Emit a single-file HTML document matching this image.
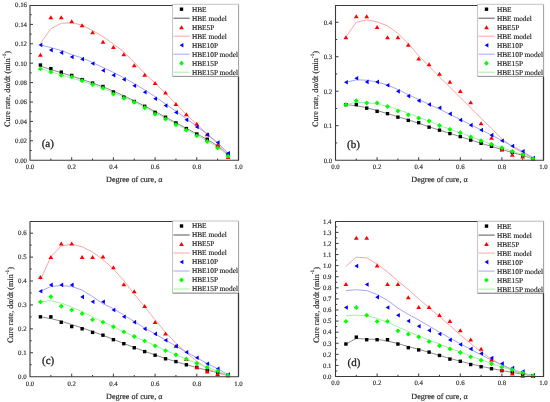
<!DOCTYPE html>
<html><head><meta charset="utf-8"><title>Cure rate plots</title>
<style>
html,body{margin:0;padding:0;background:#fff;}
body{width:550px;height:402px;overflow:hidden;}
svg{display:block;filter:blur(0.3px);}
text{font-family:'Liberation Serif', 'Times New Roman', serif;fill:#222222;stroke:#222222;stroke-width:0.15px;text-rendering:geometricPrecision;}
.tk{font-size:6.8px;fill:#333333;stroke:#333333;stroke-width:0.18px;}
.at{font-size:8.2px;}
.lg{font-size:7.35px;}
.pl{font-size:11px;stroke-width:0.3px;}
.sup{font-size:5.3px;}
.xt{font-size:8.1px;}
</style></head>
<body>
<svg width="550" height="402" viewBox="0 0 550 402">
<rect width="550" height="402" fill="#fff"/>
<polyline points="40.42,66.11 50.85,69.5 61.27,72.71 71.7,76 82.12,79.5 92.55,82.99 102.97,86.77 113.4,91.14 123.83,95.79 134.25,100.84 144.68,106.07 155.1,111.51 165.53,117.13 175.95,122.76 186.38,128.38 196.8,133.82 207.22,139.44 217.65,145.84 228.07,154.38" fill="none" stroke="#808080" stroke-width="0.9" stroke-linejoin="round"/>
<polyline points="40.42,43.51 50.85,28.67 61.27,23.33 71.7,22.75 82.12,25.08 92.55,30.61 102.97,36.62 113.4,43.99 123.83,51.95 134.25,62.52 144.68,73.39 155.1,83.08 165.53,93.27 175.95,103.94 186.38,114.61 196.8,124.31 207.22,134.01 217.65,143.71 228.07,155.35" fill="none" stroke="#ff9a9a" stroke-width="0.9" stroke-linejoin="round"/>
<polyline points="40.42,44.96 50.85,47.58 61.27,50.59 71.7,54.57 82.12,57.96 92.55,62.52 102.97,67.47 113.4,72.42 123.83,77.75 134.25,83.57 144.68,89.88 155.1,96.66 165.53,103.94 175.95,111.22 186.38,118.68 196.8,126.25 207.22,134.2 217.65,142.74 228.07,152.92" fill="none" stroke="#9a9aff" stroke-width="0.9" stroke-linejoin="round"/>
<polyline points="40.42,68.53 50.85,71.83 61.27,74.94 71.7,77.94 82.12,81.14 92.55,84.64 102.97,88.32 113.4,92.59 123.83,97.15 134.25,102 144.68,107.33 155.1,112.67 165.53,118.3 175.95,123.92 186.38,129.55 196.8,135.17 207.22,140.99 217.65,147.2 228.07,155.54" fill="none" stroke="#9aee9a" stroke-width="0.9" stroke-linejoin="round"/>
<rect x="38.72" y="63.34" width="3.4" height="3.4" fill="#000"/>
<rect x="49.15" y="66.93" width="3.4" height="3.4" fill="#000"/>
<rect x="59.57" y="70.42" width="3.4" height="3.4" fill="#000"/>
<rect x="70" y="73.72" width="3.4" height="3.4" fill="#000"/>
<rect x="80.42" y="77.89" width="3.4" height="3.4" fill="#000"/>
<rect x="90.85" y="81.38" width="3.4" height="3.4" fill="#000"/>
<rect x="101.27" y="84.78" width="3.4" height="3.4" fill="#000"/>
<rect x="111.7" y="90.31" width="3.4" height="3.4" fill="#000"/>
<rect x="122.12" y="95.45" width="3.4" height="3.4" fill="#000"/>
<rect x="132.55" y="99.81" width="3.4" height="3.4" fill="#000"/>
<rect x="142.98" y="104.57" width="3.4" height="3.4" fill="#000"/>
<rect x="153.4" y="110.68" width="3.4" height="3.4" fill="#000"/>
<rect x="163.83" y="115.53" width="3.4" height="3.4" fill="#000"/>
<rect x="174.25" y="121.25" width="3.4" height="3.4" fill="#000"/>
<rect x="184.68" y="126.88" width="3.4" height="3.4" fill="#000"/>
<rect x="195.1" y="132.31" width="3.4" height="3.4" fill="#000"/>
<rect x="205.53" y="137.55" width="3.4" height="3.4" fill="#000"/>
<rect x="215.95" y="144.92" width="3.4" height="3.4" fill="#000"/>
<rect x="226.38" y="152.68" width="3.4" height="3.4" fill="#000"/>
<path d="M40.42 52.66L42.82 56.66L38.02 56.66Z" fill="#f00"/>
<path d="M50.85 15.22L53.25 19.22L48.45 19.22Z" fill="#f00"/>
<path d="M61.27 15.22L63.67 19.22L58.88 19.22Z" fill="#f00"/>
<path d="M71.7 19.3L74.1 23.3L69.3 23.3Z" fill="#f00"/>
<path d="M82.12 23.37L84.53 27.37L79.72 27.37Z" fill="#f00"/>
<path d="M92.55 30.35L94.95 34.35L90.15 34.35Z" fill="#f00"/>
<path d="M102.97 39.76L105.38 43.76L100.57 43.76Z" fill="#f00"/>
<path d="M113.4 45L115.8 49L111 49Z" fill="#f00"/>
<path d="M123.83 52.37L126.23 56.37L121.42 56.37Z" fill="#f00"/>
<path d="M134.25 63.14L136.65 67.14L131.85 67.14Z" fill="#f00"/>
<path d="M144.68 72.74L147.08 76.74L142.28 76.74Z" fill="#f00"/>
<path d="M155.1 80.89L157.5 84.89L152.7 84.89Z" fill="#f00"/>
<path d="M165.53 90.59L167.93 94.59L163.12 94.59Z" fill="#f00"/>
<path d="M175.95 101.94L178.35 105.94L173.55 105.94Z" fill="#f00"/>
<path d="M186.38 112.22L188.78 116.22L183.97 116.22Z" fill="#f00"/>
<path d="M196.8 121.82L199.2 125.82L194.4 125.82Z" fill="#f00"/>
<path d="M207.22 132.2L209.62 136.2L204.82 136.2Z" fill="#f00"/>
<path d="M217.65 142.87L220.05 146.87L215.25 146.87Z" fill="#f00"/>
<path d="M228.07 154.9L230.47 158.9L225.67 158.9Z" fill="#f00"/>
<path d="M38.52 44.96L42.32 42.66L42.32 47.26Z" fill="#00f"/>
<path d="M48.95 50.11L52.75 47.81L52.75 52.41Z" fill="#00f"/>
<path d="M59.38 52.63L63.17 50.33L63.17 54.93Z" fill="#00f"/>
<path d="M69.8 56.99L73.6 54.69L73.6 59.29Z" fill="#00f"/>
<path d="M80.22 59.13L84.03 56.83L84.03 61.43Z" fill="#00f"/>
<path d="M90.65 63.49L94.45 61.19L94.45 65.79Z" fill="#00f"/>
<path d="M101.07 70.57L104.88 68.27L104.88 72.87Z" fill="#00f"/>
<path d="M111.5 75.13L115.3 72.83L115.3 77.43Z" fill="#00f"/>
<path d="M121.92 79.4L125.73 77.1L125.73 81.7Z" fill="#00f"/>
<path d="M132.35 85.8L136.15 83.5L136.15 88.1Z" fill="#00f"/>
<path d="M142.78 92.2L146.58 89.9L146.58 94.5Z" fill="#00f"/>
<path d="M153.2 98.8L157 96.5L157 101.1Z" fill="#00f"/>
<path d="M163.62 105.59L167.43 103.29L167.43 107.89Z" fill="#00f"/>
<path d="M174.05 112.38L177.85 110.08L177.85 114.68Z" fill="#00f"/>
<path d="M184.47 119.85L188.28 117.55L188.28 122.15Z" fill="#00f"/>
<path d="M194.9 126.93L198.7 124.63L198.7 129.23Z" fill="#00f"/>
<path d="M205.32 134.79L209.12 132.49L209.12 137.09Z" fill="#00f"/>
<path d="M215.75 142.55L219.55 140.25L219.55 144.85Z" fill="#00f"/>
<path d="M226.17 153.31L229.97 151.01L229.97 155.61Z" fill="#00f"/>
<path d="M40.42 66.47L42.88 68.92L40.42 71.37L37.97 68.92Z" fill="#0f0"/>
<path d="M50.85 69.67L53.3 72.12L50.85 74.57L48.4 72.12Z" fill="#0f0"/>
<path d="M61.27 72.97L63.73 75.42L61.27 77.87L58.82 75.42Z" fill="#0f0"/>
<path d="M71.7 74.43L74.15 76.88L71.7 79.33L69.25 76.88Z" fill="#0f0"/>
<path d="M82.12 78.21L84.58 80.66L82.12 83.11L79.67 80.66Z" fill="#0f0"/>
<path d="M92.55 82.09L95 84.54L92.55 86.99L90.1 84.54Z" fill="#0f0"/>
<path d="M102.97 85.68L105.42 88.13L102.97 90.58L100.52 88.13Z" fill="#0f0"/>
<path d="M113.4 91.5L115.85 93.95L113.4 96.4L110.95 93.95Z" fill="#0f0"/>
<path d="M123.83 95.77L126.28 98.22L123.83 100.67L121.38 98.22Z" fill="#0f0"/>
<path d="M134.25 99.84L136.7 102.29L134.25 104.74L131.8 102.29Z" fill="#0f0"/>
<path d="M144.68 105.37L147.12 107.82L144.68 110.27L142.23 107.82Z" fill="#0f0"/>
<path d="M155.1 111.77L157.55 114.22L155.1 116.67L152.65 114.22Z" fill="#0f0"/>
<path d="M165.53 116.62L167.97 119.07L165.53 121.52L163.08 119.07Z" fill="#0f0"/>
<path d="M175.95 122.25L178.4 124.7L175.95 127.15L173.5 124.7Z" fill="#0f0"/>
<path d="M186.38 127.68L188.82 130.13L186.38 132.58L183.93 130.13Z" fill="#0f0"/>
<path d="M196.8 133.4L199.25 135.85L196.8 138.3L194.35 135.85Z" fill="#0f0"/>
<path d="M207.22 139.03L209.67 141.48L207.22 143.93L204.78 141.48Z" fill="#0f0"/>
<path d="M217.65 145.43L220.1 147.88L217.65 150.33L215.2 147.88Z" fill="#0f0"/>
<path d="M228.07 153.68L230.52 156.13L228.07 158.58L225.62 156.13Z" fill="#0f0"/>
<path d="M30 5V160.2H238.5V5" fill="none" stroke="#3a3a3a" stroke-width="1.1"/>
<path d="M30 5.5H238.5" fill="none" stroke="#3a3a3a" stroke-width="1"/>
<text x="30" y="169" text-anchor="middle" class="tk">0.0</text>
<path d="M50.85 160.2V158.5" stroke="#3a3a3a" stroke-width="1"/>
<path d="M71.7 160.2V157.2" stroke="#3a3a3a" stroke-width="1"/>
<text x="71.7" y="169" text-anchor="middle" class="tk">0.2</text>
<path d="M92.55 160.2V158.5" stroke="#3a3a3a" stroke-width="1"/>
<path d="M113.4 160.2V157.2" stroke="#3a3a3a" stroke-width="1"/>
<text x="113.4" y="169" text-anchor="middle" class="tk">0.4</text>
<path d="M134.25 160.2V158.5" stroke="#3a3a3a" stroke-width="1"/>
<path d="M155.1 160.2V157.2" stroke="#3a3a3a" stroke-width="1"/>
<text x="155.1" y="169" text-anchor="middle" class="tk">0.6</text>
<path d="M175.95 160.2V158.5" stroke="#3a3a3a" stroke-width="1"/>
<path d="M196.8 160.2V157.2" stroke="#3a3a3a" stroke-width="1"/>
<text x="196.8" y="169" text-anchor="middle" class="tk">0.8</text>
<path d="M217.65 160.2V158.5" stroke="#3a3a3a" stroke-width="1"/>
<text x="238.5" y="169" text-anchor="middle" class="tk">1.0</text>
<path d="M30 150.5H31.7" stroke="#3a3a3a" stroke-width="1"/>
<path d="M30 140.8H33" stroke="#3a3a3a" stroke-width="1"/>
<path d="M30 131.1H31.7" stroke="#3a3a3a" stroke-width="1"/>
<path d="M30 121.4H33" stroke="#3a3a3a" stroke-width="1"/>
<path d="M30 111.7H31.7" stroke="#3a3a3a" stroke-width="1"/>
<path d="M30 102H33" stroke="#3a3a3a" stroke-width="1"/>
<path d="M30 92.3H31.7" stroke="#3a3a3a" stroke-width="1"/>
<path d="M30 82.6H33" stroke="#3a3a3a" stroke-width="1"/>
<path d="M30 72.9H31.7" stroke="#3a3a3a" stroke-width="1"/>
<path d="M30 63.2H33" stroke="#3a3a3a" stroke-width="1"/>
<path d="M30 53.5H31.7" stroke="#3a3a3a" stroke-width="1"/>
<path d="M30 43.8H33" stroke="#3a3a3a" stroke-width="1"/>
<path d="M30 34.1H31.7" stroke="#3a3a3a" stroke-width="1"/>
<path d="M30 24.4H33" stroke="#3a3a3a" stroke-width="1"/>
<path d="M30 14.7H31.7" stroke="#3a3a3a" stroke-width="1"/>
<text x="27" y="162.5" text-anchor="end" class="tk">0.00</text>
<text x="27" y="143.1" text-anchor="end" class="tk">0.02</text>
<text x="27" y="123.7" text-anchor="end" class="tk">0.04</text>
<text x="27" y="104.3" text-anchor="end" class="tk">0.06</text>
<text x="27" y="84.9" text-anchor="end" class="tk">0.08</text>
<text x="27" y="65.5" text-anchor="end" class="tk">0.10</text>
<text x="27" y="46.1" text-anchor="end" class="tk">0.12</text>
<text x="27" y="26.7" text-anchor="end" class="tk">0.14</text>
<text x="27" y="7.3" text-anchor="end" class="tk">0.16</text>
<text x="41.7" y="146.5" class="pl">(a)</text>
<text x="134.25" y="182.4" text-anchor="middle" class="at xt">Degree of cure, &#945;</text>
<text transform="translate(10 127) rotate(-90)" class="at">Cure rate, d&#945;/dt (min<tspan dy="-4.3" class="sup">-1</tspan><tspan dy="4.3">)</tspan></text>
<rect x="172.7" y="4.2" width="65.8" height="72" fill="#fff" stroke="#aaa" stroke-width="0.7"/>
<path d="M172.7 76.5H238.5" stroke="#999" stroke-width="1.1"/>
<rect x="179.8" y="7.5" width="3.4" height="3.4" fill="#000"/>
<text x="191.9" y="11.6" class="lg">HBE</text>
<path d="M173.5 18.2H189.7" stroke="#444" stroke-width="0.9"/>
<text x="191.9" y="20.6" class="lg">HBE model</text>
<path d="M181.5 25.2L183.9 29.2L179.1 29.2Z" fill="#f00"/>
<text x="191.9" y="29.6" class="lg">HBE5P</text>
<path d="M173.5 36.2H189.7" stroke="#ff9a9a" stroke-width="0.9"/>
<text x="191.9" y="38.6" class="lg">HBE model</text>
<path d="M179.6 45.2L183.4 42.9L183.4 47.5Z" fill="#00f"/>
<text x="191.9" y="47.6" class="lg">HBE10P</text>
<path d="M173.5 54.2H189.7" stroke="#9a9aff" stroke-width="0.9"/>
<text x="191.9" y="56.6" class="lg">HBE10P model</text>
<path d="M181.5 60.75L183.95 63.2L181.5 65.65L179.05 63.2Z" fill="#0f0"/>
<text x="191.9" y="65.6" class="lg">HBE15P</text>
<path d="M173.5 72.2H189.7" stroke="#9aee9a" stroke-width="0.9"/>
<text x="191.9" y="74.6" class="lg">HBE15P model</text>
<path d="M238.5 77V160.2" stroke="#3a3a3a" stroke-width="1.2"/>
<polyline points="345.9,104.67 356.3,105.71 366.7,107.78 377.1,110.54 387.5,113.64 397.9,116.74 408.3,119.85 418.7,123.3 429.1,126.75 439.5,130.19 449.9,133.3 460.3,136.75 470.7,139.85 481.1,143.3 491.5,146.4 501.9,149.51 512.3,152.61 522.7,155.37 533.1,158.82" fill="none" stroke="#808080" stroke-width="0.9" stroke-linejoin="round"/>
<polyline points="345.9,36.87 356.3,22.24 366.7,19.83 377.1,21.9 387.5,25.83 397.9,33.45 408.3,43.63 418.7,55.7 429.1,66.39 439.5,76.91 449.9,87.26 460.3,97.6 470.7,107.95 481.1,118.3 491.5,128.47 501.9,138.82 512.3,146.75 522.7,152.96 533.1,158.3" fill="none" stroke="#ff9a9a" stroke-width="0.9" stroke-linejoin="round"/>
<polyline points="345.9,82.26 356.3,79.84 366.7,80.19 377.1,81.91 387.5,85.01 397.9,89.5 408.3,94.67 418.7,99.5 429.1,104.33 439.5,109.16 449.9,114.33 460.3,119.5 470.7,124.68 481.1,129.85 491.5,135.02 501.9,140.54 512.3,146.06 522.7,151.58 533.1,157.79" fill="none" stroke="#9a9aff" stroke-width="0.9" stroke-linejoin="round"/>
<polyline points="345.9,104.67 356.3,102.26 366.7,102.6 377.1,103.98 387.5,106.4 397.9,109.5 408.3,113.3 418.7,117.09 429.1,121.23 439.5,125.37 449.9,129.16 460.3,132.95 470.7,136.75 481.1,140.54 491.5,144.34 501.9,147.78 512.3,151.23 522.7,154.68 533.1,158.82" fill="none" stroke="#9aee9a" stroke-width="0.9" stroke-linejoin="round"/>
<rect x="344.2" y="102.97" width="3.4" height="3.4" fill="#000"/>
<rect x="354.6" y="102.97" width="3.4" height="3.4" fill="#000"/>
<rect x="365" y="106.42" width="3.4" height="3.4" fill="#000"/>
<rect x="375.4" y="109.63" width="3.4" height="3.4" fill="#000"/>
<rect x="385.8" y="111.94" width="3.4" height="3.4" fill="#000"/>
<rect x="396.2" y="115.46" width="3.4" height="3.4" fill="#000"/>
<rect x="406.6" y="118.67" width="3.4" height="3.4" fill="#000"/>
<rect x="417" y="120.94" width="3.4" height="3.4" fill="#000"/>
<rect x="427.4" y="125.46" width="3.4" height="3.4" fill="#000"/>
<rect x="437.8" y="128.46" width="3.4" height="3.4" fill="#000"/>
<rect x="448.2" y="131.87" width="3.4" height="3.4" fill="#000"/>
<rect x="458.6" y="134.88" width="3.4" height="3.4" fill="#000"/>
<rect x="469" y="138.39" width="3.4" height="3.4" fill="#000"/>
<rect x="479.4" y="141.6" width="3.4" height="3.4" fill="#000"/>
<rect x="489.8" y="144.6" width="3.4" height="3.4" fill="#000"/>
<rect x="500.2" y="147.81" width="3.4" height="3.4" fill="#000"/>
<rect x="510.6" y="150.71" width="3.4" height="3.4" fill="#000"/>
<rect x="521" y="153.6" width="3.4" height="3.4" fill="#000"/>
<rect x="531.4" y="157.12" width="3.4" height="3.4" fill="#000"/>
<path d="M345.9 35.14L348.3 39.14L343.5 39.14Z" fill="#f00"/>
<path d="M356.3 14.24L358.7 18.24L353.9 18.24Z" fill="#f00"/>
<path d="M366.7 14.24L369.1 18.24L364.3 18.24Z" fill="#f00"/>
<path d="M377.1 25.07L379.5 29.07L374.7 29.07Z" fill="#f00"/>
<path d="M387.5 35.14L389.9 39.14L385.1 39.14Z" fill="#f00"/>
<path d="M397.9 35.14L400.3 39.14L395.5 39.14Z" fill="#f00"/>
<path d="M408.3 42.77L410.7 46.77L405.9 46.77Z" fill="#f00"/>
<path d="M418.7 56.6L421.1 60.6L416.3 60.6Z" fill="#f00"/>
<path d="M429.1 62.18L431.5 66.18L426.7 66.18Z" fill="#f00"/>
<path d="M439.5 71.63L441.9 75.63L437.1 75.63Z" fill="#f00"/>
<path d="M449.9 79.7L452.3 83.7L447.5 83.7Z" fill="#f00"/>
<path d="M460.3 89.02L462.7 93.02L457.9 93.02Z" fill="#f00"/>
<path d="M470.7 100.26L473.1 104.26L468.3 104.26Z" fill="#f00"/>
<path d="M481.1 121.3L483.5 125.3L478.7 125.3Z" fill="#f00"/>
<path d="M491.5 135.78L493.9 139.78L489.1 139.78Z" fill="#f00"/>
<path d="M501.9 147.51L504.3 151.51L499.5 151.51Z" fill="#f00"/>
<path d="M512.3 152.68L514.7 156.68L509.9 156.68Z" fill="#f00"/>
<path d="M522.7 154.58L525.1 158.58L520.3 158.58Z" fill="#f00"/>
<path d="M533.1 156.82L535.5 160.82L530.7 160.82Z" fill="#f00"/>
<path d="M344 82.22L347.8 79.92L347.8 84.52Z" fill="#00f"/>
<path d="M354.4 78.32L358.2 76.02L358.2 80.62Z" fill="#00f"/>
<path d="M364.8 81.91L368.6 79.61L368.6 84.21Z" fill="#00f"/>
<path d="M375.2 81.91L379 79.61L379 84.21Z" fill="#00f"/>
<path d="M385.6 85.22L389.4 82.92L389.4 87.52Z" fill="#00f"/>
<path d="M396 91.33L399.8 89.03L399.8 93.63Z" fill="#00f"/>
<path d="M406.4 96.12L410.2 93.82L410.2 98.42Z" fill="#00f"/>
<path d="M416.8 100.64L420.6 98.34L420.6 102.94Z" fill="#00f"/>
<path d="M427.2 104.53L431 102.23L431 106.83Z" fill="#00f"/>
<path d="M437.6 107.74L441.4 105.44L441.4 110.04Z" fill="#00f"/>
<path d="M448 113.85L451.8 111.55L451.8 116.15Z" fill="#00f"/>
<path d="M458.4 120.05L462.2 117.75L462.2 122.35Z" fill="#00f"/>
<path d="M468.8 125.16L472.6 122.86L472.6 127.46Z" fill="#00f"/>
<path d="M479.2 129.95L483 127.65L483 132.25Z" fill="#00f"/>
<path d="M489.6 135.16L493.4 132.86L493.4 137.46Z" fill="#00f"/>
<path d="M500 140.78L503.8 138.48L503.8 143.08Z" fill="#00f"/>
<path d="M510.4 145.99L514.2 143.69L514.2 148.29Z" fill="#00f"/>
<path d="M520.8 151.37L524.6 149.07L524.6 153.67Z" fill="#00f"/>
<path d="M531.2 158.13L535 155.83L535 160.43Z" fill="#00f"/>
<path d="M345.9 102.22L348.35 104.67L345.9 107.12L343.45 104.67Z" fill="#0f0"/>
<path d="M356.3 98.29L358.75 100.74L356.3 103.19L353.85 100.74Z" fill="#0f0"/>
<path d="M366.7 100.5L369.15 102.95L366.7 105.4L364.25 102.95Z" fill="#0f0"/>
<path d="M377.1 100.5L379.55 102.95L377.1 105.4L374.65 102.95Z" fill="#0f0"/>
<path d="M387.5 104.09L389.95 106.54L387.5 108.99L385.05 106.54Z" fill="#0f0"/>
<path d="M397.9 108.5L400.35 110.95L397.9 113.4L395.45 110.95Z" fill="#0f0"/>
<path d="M408.3 112.4L410.75 114.85L408.3 117.3L405.85 114.85Z" fill="#0f0"/>
<path d="M418.7 115.71L421.15 118.16L418.7 120.61L416.25 118.16Z" fill="#0f0"/>
<path d="M429.1 118.61L431.55 121.06L429.1 123.51L426.65 121.06Z" fill="#0f0"/>
<path d="M439.5 123.02L441.95 125.47L439.5 127.92L437.05 125.47Z" fill="#0f0"/>
<path d="M449.9 126.92L452.35 129.37L449.9 131.82L447.45 129.37Z" fill="#0f0"/>
<path d="M460.3 130.23L462.75 132.68L460.3 135.13L457.85 132.68Z" fill="#0f0"/>
<path d="M470.7 134.44L473.15 136.89L470.7 139.34L468.25 136.89Z" fill="#0f0"/>
<path d="M481.1 138.33L483.55 140.78L481.1 143.23L478.65 140.78Z" fill="#0f0"/>
<path d="M491.5 141.85L493.95 144.3L491.5 146.75L489.05 144.3Z" fill="#0f0"/>
<path d="M501.9 145.33L504.35 147.78L501.9 150.23L499.45 147.78Z" fill="#0f0"/>
<path d="M512.3 148.96L514.75 151.41L512.3 153.86L509.85 151.41Z" fill="#0f0"/>
<path d="M522.7 152.13L525.15 154.58L522.7 157.03L520.25 154.58Z" fill="#0f0"/>
<path d="M533.1 156.37L535.55 158.82L533.1 161.27L530.65 158.82Z" fill="#0f0"/>
<path d="M335.5 5V160.2H543.5V5" fill="none" stroke="#3a3a3a" stroke-width="1.1"/>
<path d="M335.5 5.5H543.5" fill="none" stroke="#3a3a3a" stroke-width="1"/>
<text x="335.5" y="169" text-anchor="middle" class="tk">0.0</text>
<path d="M356.3 160.2V158.5" stroke="#3a3a3a" stroke-width="1"/>
<path d="M377.1 160.2V157.2" stroke="#3a3a3a" stroke-width="1"/>
<text x="377.1" y="169" text-anchor="middle" class="tk">0.2</text>
<path d="M397.9 160.2V158.5" stroke="#3a3a3a" stroke-width="1"/>
<path d="M418.7 160.2V157.2" stroke="#3a3a3a" stroke-width="1"/>
<text x="418.7" y="169" text-anchor="middle" class="tk">0.4</text>
<path d="M439.5 160.2V158.5" stroke="#3a3a3a" stroke-width="1"/>
<path d="M460.3 160.2V157.2" stroke="#3a3a3a" stroke-width="1"/>
<text x="460.3" y="169" text-anchor="middle" class="tk">0.6</text>
<path d="M481.1 160.2V158.5" stroke="#3a3a3a" stroke-width="1"/>
<path d="M501.9 160.2V157.2" stroke="#3a3a3a" stroke-width="1"/>
<text x="501.9" y="169" text-anchor="middle" class="tk">0.8</text>
<path d="M522.7 160.2V158.5" stroke="#3a3a3a" stroke-width="1"/>
<text x="543.5" y="169" text-anchor="middle" class="tk">1.0</text>
<path d="M335.5 142.96H337.2" stroke="#3a3a3a" stroke-width="1"/>
<path d="M335.5 125.71H338.5" stroke="#3a3a3a" stroke-width="1"/>
<path d="M335.5 108.47H337.2" stroke="#3a3a3a" stroke-width="1"/>
<path d="M335.5 91.22H338.5" stroke="#3a3a3a" stroke-width="1"/>
<path d="M335.5 73.98H337.2" stroke="#3a3a3a" stroke-width="1"/>
<path d="M335.5 56.73H338.5" stroke="#3a3a3a" stroke-width="1"/>
<path d="M335.5 39.49H337.2" stroke="#3a3a3a" stroke-width="1"/>
<path d="M335.5 22.24H338.5" stroke="#3a3a3a" stroke-width="1"/>
<text x="332.2" y="162.5" text-anchor="end" class="tk">0.0</text>
<text x="332.2" y="128.01" text-anchor="end" class="tk">0.1</text>
<text x="332.2" y="93.52" text-anchor="end" class="tk">0.2</text>
<text x="332.2" y="59.03" text-anchor="end" class="tk">0.3</text>
<text x="332.2" y="24.54" text-anchor="end" class="tk">0.4</text>
<text x="347" y="147.5" class="pl">(b)</text>
<text x="439.5" y="182.4" text-anchor="middle" class="at xt">Degree of cure, &#945;</text>
<text transform="translate(318.3 127) rotate(-90)" class="at">Cure rate, d&#945;/dt (min<tspan dy="-4.3" class="sup">-1</tspan><tspan dy="4.3">)</tspan></text>
<rect x="477.7" y="4.2" width="65.8" height="72" fill="#fff" stroke="#aaa" stroke-width="0.7"/>
<path d="M477.7 76.5H543.5" stroke="#999" stroke-width="1.1"/>
<rect x="484.8" y="7.5" width="3.4" height="3.4" fill="#000"/>
<text x="496.9" y="11.6" class="lg">HBE</text>
<path d="M478.5 18.2H494.7" stroke="#444" stroke-width="0.9"/>
<text x="496.9" y="20.6" class="lg">HBE model</text>
<path d="M486.5 25.2L488.9 29.2L484.1 29.2Z" fill="#f00"/>
<text x="496.9" y="29.6" class="lg">HBE5P</text>
<path d="M478.5 36.2H494.7" stroke="#ff9a9a" stroke-width="0.9"/>
<text x="496.9" y="38.6" class="lg">HBE model</text>
<path d="M484.6 45.2L488.4 42.9L488.4 47.5Z" fill="#00f"/>
<text x="496.9" y="47.6" class="lg">HBE10P</text>
<path d="M478.5 54.2H494.7" stroke="#9a9aff" stroke-width="0.9"/>
<text x="496.9" y="56.6" class="lg">HBE10P model</text>
<path d="M486.5 60.75L488.95 63.2L486.5 65.65L484.05 63.2Z" fill="#0f0"/>
<text x="496.9" y="65.6" class="lg">HBE15P</text>
<path d="M478.5 72.2H494.7" stroke="#9aee9a" stroke-width="0.9"/>
<text x="496.9" y="74.6" class="lg">HBE15P model</text>
<path d="M543.5 77V160.2" stroke="#3a3a3a" stroke-width="1.2"/>
<polyline points="40.42,316.89 50.85,318.57 61.27,321.2 71.7,324.55 82.12,327.9 92.55,331.49 102.97,335.31 113.4,339.38 123.83,343.45 134.25,347.51 144.68,351.34 155.1,354.93 165.53,358.52 175.95,361.63 186.38,364.74 196.8,367.61 207.22,370.24 217.65,372.63 228.07,375.26" fill="none" stroke="#808080" stroke-width="0.9" stroke-linejoin="round"/>
<polyline points="40.42,279.81 50.85,256.85 61.27,245.84 71.7,244.26 82.12,246.8 92.55,252.06 102.97,259.48 113.4,269.05 123.83,280.53 134.25,294.17 144.68,306.84 155.1,319.76 165.53,332.44 175.95,343.21 186.38,352.78 196.8,361.15 207.22,368.33 217.65,373.11 228.07,375.74" fill="none" stroke="#ff9a9a" stroke-width="0.9" stroke-linejoin="round"/>
<polyline points="40.42,291.29 50.85,286.51 61.27,285.55 71.7,286.51 82.12,290.1 92.55,296.56 102.97,303.83 113.4,308.64 123.83,315.05 134.25,321.56 144.68,328.06 155.1,333.88 165.53,340.1 175.95,346.08 186.38,352.06 196.8,357.8 207.22,363.54 217.65,368.81 228.07,374.55" fill="none" stroke="#9a9aff" stroke-width="0.9" stroke-linejoin="round"/>
<polyline points="40.42,301.92 50.85,300.62 61.27,303.26 71.7,307.08 82.12,311.63 92.55,316.89 102.97,321.92 113.4,326.7 123.83,331.72 134.25,336.51 144.68,341.05 155.1,345.6 165.53,350.38 175.95,354.69 186.38,359 196.8,363.3 207.22,367.37 217.65,371.2 228.07,375.26" fill="none" stroke="#9aee9a" stroke-width="0.9" stroke-linejoin="round"/>
<rect x="38.72" y="315.14" width="3.4" height="3.4" fill="#000"/>
<rect x="49.15" y="315.14" width="3.4" height="3.4" fill="#000"/>
<rect x="59.57" y="320.57" width="3.4" height="3.4" fill="#000"/>
<rect x="70" y="324.86" width="3.4" height="3.4" fill="#000"/>
<rect x="80.42" y="327.06" width="3.4" height="3.4" fill="#000"/>
<rect x="90.85" y="330.67" width="3.4" height="3.4" fill="#000"/>
<rect x="101.27" y="333.47" width="3.4" height="3.4" fill="#000"/>
<rect x="111.7" y="337.97" width="3.4" height="3.4" fill="#000"/>
<rect x="122.12" y="341.99" width="3.4" height="3.4" fill="#000"/>
<rect x="132.55" y="346.05" width="3.4" height="3.4" fill="#000"/>
<rect x="142.98" y="349.88" width="3.4" height="3.4" fill="#000"/>
<rect x="153.4" y="353.47" width="3.4" height="3.4" fill="#000"/>
<rect x="163.83" y="357.08" width="3.4" height="3.4" fill="#000"/>
<rect x="174.25" y="359.88" width="3.4" height="3.4" fill="#000"/>
<rect x="184.68" y="363.09" width="3.4" height="3.4" fill="#000"/>
<rect x="195.1" y="365.67" width="3.4" height="3.4" fill="#000"/>
<rect x="205.53" y="368.59" width="3.4" height="3.4" fill="#000"/>
<rect x="215.95" y="370.89" width="3.4" height="3.4" fill="#000"/>
<rect x="226.38" y="373.56" width="3.4" height="3.4" fill="#000"/>
<path d="M40.42 275.11L42.82 279.11L38.02 279.11Z" fill="#f00"/>
<path d="M50.85 254.89L53.25 258.89L48.45 258.89Z" fill="#f00"/>
<path d="M61.27 241.57L63.67 245.57L58.88 245.57Z" fill="#f00"/>
<path d="M71.7 241.57L74.1 245.57L69.3 245.57Z" fill="#f00"/>
<path d="M82.12 254.89L84.53 258.89L79.72 258.89Z" fill="#f00"/>
<path d="M92.55 254.89L94.95 258.89L90.15 258.89Z" fill="#f00"/>
<path d="M102.97 254.61L105.38 258.61L100.57 258.61Z" fill="#f00"/>
<path d="M113.4 265.37L115.8 269.37L111 269.37Z" fill="#f00"/>
<path d="M123.83 282.21L126.23 286.21L121.42 286.21Z" fill="#f00"/>
<path d="M134.25 289.29L136.65 293.29L131.85 293.29Z" fill="#f00"/>
<path d="M144.68 304.03L147.08 308.03L142.28 308.03Z" fill="#f00"/>
<path d="M155.1 319.92L157.5 323.92L152.7 323.92Z" fill="#f00"/>
<path d="M165.53 331.57L167.93 335.57L163.12 335.57Z" fill="#f00"/>
<path d="M175.95 344.08L178.35 348.08L173.55 348.08Z" fill="#f00"/>
<path d="M186.38 357.04L188.78 361.04L183.97 361.04Z" fill="#f00"/>
<path d="M196.8 365.37L199.2 369.37L194.4 369.37Z" fill="#f00"/>
<path d="M207.22 369.58L209.62 373.58L204.82 373.58Z" fill="#f00"/>
<path d="M217.65 371.9L220.05 375.9L215.25 375.9Z" fill="#f00"/>
<path d="M228.07 373.26L230.47 377.26L225.67 377.26Z" fill="#f00"/>
<path d="M38.52 291.29L42.32 288.99L42.32 293.59Z" fill="#00f"/>
<path d="M48.95 284.91L52.75 282.61L52.75 287.21Z" fill="#00f"/>
<path d="M59.38 284.91L63.17 282.61L63.17 287.21Z" fill="#00f"/>
<path d="M69.8 284.91L73.6 282.61L73.6 287.21Z" fill="#00f"/>
<path d="M80.22 296.92L84.03 294.62L84.03 299.22Z" fill="#00f"/>
<path d="M90.65 301.73L94.45 299.43L94.45 304.03Z" fill="#00f"/>
<path d="M101.07 301.73L104.88 299.43L104.88 304.03Z" fill="#00f"/>
<path d="M111.5 309.95L115.3 307.65L115.3 312.25Z" fill="#00f"/>
<path d="M121.92 316.75L125.73 314.45L125.73 319.05Z" fill="#00f"/>
<path d="M132.35 322.16L136.15 319.86L136.15 324.46Z" fill="#00f"/>
<path d="M142.78 328.85L146.58 326.55L146.58 331.15Z" fill="#00f"/>
<path d="M153.2 333.88L157 331.58L157 336.18Z" fill="#00f"/>
<path d="M163.62 340.27L167.43 337.97L167.43 342.57Z" fill="#00f"/>
<path d="M174.05 346.08L177.85 343.78L177.85 348.38Z" fill="#00f"/>
<path d="M184.47 352.18L188.28 349.88L188.28 354.48Z" fill="#00f"/>
<path d="M194.9 357.68L198.7 355.38L198.7 359.98Z" fill="#00f"/>
<path d="M205.32 363.78L209.12 361.48L209.12 366.08Z" fill="#00f"/>
<path d="M215.75 368.69L219.55 366.39L219.55 370.99Z" fill="#00f"/>
<path d="M226.17 374.5L229.97 372.2L229.97 376.8Z" fill="#00f"/>
<path d="M40.42 299.47L42.88 301.92L40.42 304.37L37.97 301.92Z" fill="#0f0"/>
<path d="M50.85 294.28L53.3 296.73L50.85 299.18L48.4 296.73Z" fill="#0f0"/>
<path d="M61.27 303.77L63.73 306.22L61.27 308.67L58.82 306.22Z" fill="#0f0"/>
<path d="M71.7 307.67L74.15 310.12L71.7 312.57L69.25 310.12Z" fill="#0f0"/>
<path d="M82.12 311.19L84.58 313.64L82.12 316.09L79.67 313.64Z" fill="#0f0"/>
<path d="M92.55 317.19L95 319.64L92.55 322.09L90.1 319.64Z" fill="#0f0"/>
<path d="M102.97 319.71L105.42 322.16L102.97 324.61L100.52 322.16Z" fill="#0f0"/>
<path d="M113.4 324.3L115.85 326.75L113.4 329.2L110.95 326.75Z" fill="#0f0"/>
<path d="M123.83 329.42L126.28 331.87L123.83 334.32L121.38 331.87Z" fill="#0f0"/>
<path d="M134.25 334.01L136.7 336.46L134.25 338.91L131.8 336.46Z" fill="#0f0"/>
<path d="M144.68 338.44L147.12 340.89L144.68 343.34L142.23 340.89Z" fill="#0f0"/>
<path d="M155.1 343.39L157.55 345.84L155.1 348.29L152.65 345.84Z" fill="#0f0"/>
<path d="M165.53 348.22L167.97 350.67L165.53 353.12L163.08 350.67Z" fill="#0f0"/>
<path d="M175.95 352.34L178.4 354.79L175.95 357.24L173.5 354.79Z" fill="#0f0"/>
<path d="M186.38 356.59L188.82 359.04L186.38 361.49L183.93 359.04Z" fill="#0f0"/>
<path d="M196.8 360.85L199.25 363.3L196.8 365.75L194.35 363.3Z" fill="#0f0"/>
<path d="M207.22 364.92L209.67 367.37L207.22 369.82L204.78 367.37Z" fill="#0f0"/>
<path d="M217.65 368.56L220.1 371.01L217.65 373.46L215.2 371.01Z" fill="#0f0"/>
<path d="M228.07 372.81L230.52 375.26L228.07 377.71L225.62 375.26Z" fill="#0f0"/>
<path d="M30 221.2V376.7H238.5V221.2" fill="none" stroke="#3a3a3a" stroke-width="1.1"/>
<path d="M30 221.5H238.5" fill="none" stroke="#3a3a3a" stroke-width="1"/>
<text x="30" y="385.5" text-anchor="middle" class="tk">0.0</text>
<path d="M50.85 376.7V375" stroke="#3a3a3a" stroke-width="1"/>
<path d="M71.7 376.7V373.7" stroke="#3a3a3a" stroke-width="1"/>
<text x="71.7" y="385.5" text-anchor="middle" class="tk">0.2</text>
<path d="M92.55 376.7V375" stroke="#3a3a3a" stroke-width="1"/>
<path d="M113.4 376.7V373.7" stroke="#3a3a3a" stroke-width="1"/>
<text x="113.4" y="385.5" text-anchor="middle" class="tk">0.4</text>
<path d="M134.25 376.7V375" stroke="#3a3a3a" stroke-width="1"/>
<path d="M155.1 376.7V373.7" stroke="#3a3a3a" stroke-width="1"/>
<text x="155.1" y="385.5" text-anchor="middle" class="tk">0.6</text>
<path d="M175.95 376.7V375" stroke="#3a3a3a" stroke-width="1"/>
<path d="M196.8 376.7V373.7" stroke="#3a3a3a" stroke-width="1"/>
<text x="196.8" y="385.5" text-anchor="middle" class="tk">0.8</text>
<path d="M217.65 376.7V375" stroke="#3a3a3a" stroke-width="1"/>
<text x="238.5" y="385.5" text-anchor="middle" class="tk">1.0</text>
<path d="M30 364.74H31.7" stroke="#3a3a3a" stroke-width="1"/>
<path d="M30 352.78H33" stroke="#3a3a3a" stroke-width="1"/>
<path d="M30 340.82H31.7" stroke="#3a3a3a" stroke-width="1"/>
<path d="M30 328.85H33" stroke="#3a3a3a" stroke-width="1"/>
<path d="M30 316.89H31.7" stroke="#3a3a3a" stroke-width="1"/>
<path d="M30 304.93H33" stroke="#3a3a3a" stroke-width="1"/>
<path d="M30 292.97H31.7" stroke="#3a3a3a" stroke-width="1"/>
<path d="M30 281.01H33" stroke="#3a3a3a" stroke-width="1"/>
<path d="M30 269.05H31.7" stroke="#3a3a3a" stroke-width="1"/>
<path d="M30 257.08H33" stroke="#3a3a3a" stroke-width="1"/>
<path d="M30 245.12H31.7" stroke="#3a3a3a" stroke-width="1"/>
<path d="M30 233.16H33" stroke="#3a3a3a" stroke-width="1"/>
<text x="26.6" y="379" text-anchor="end" class="tk">0.0</text>
<text x="26.6" y="355.08" text-anchor="end" class="tk">0.1</text>
<text x="26.6" y="331.15" text-anchor="end" class="tk">0.2</text>
<text x="26.6" y="307.23" text-anchor="end" class="tk">0.3</text>
<text x="26.6" y="283.31" text-anchor="end" class="tk">0.4</text>
<text x="26.6" y="259.38" text-anchor="end" class="tk">0.5</text>
<text x="26.6" y="235.46" text-anchor="end" class="tk">0.6</text>
<text x="42" y="363.5" class="pl">(c)</text>
<text x="134.25" y="398.9" text-anchor="middle" class="at xt">Degree of cure, &#945;</text>
<text transform="translate(13.3 343.1) rotate(-90)" class="at">Cure rate, d&#945;/dt (min<tspan dy="-4.3" class="sup">-1</tspan><tspan dy="4.3">)</tspan></text>
<rect x="172.7" y="221" width="65.8" height="72" fill="#fff" stroke="#aaa" stroke-width="0.7"/>
<path d="M172.7 293.3H238.5" stroke="#999" stroke-width="1.1"/>
<rect x="179.8" y="224.3" width="3.4" height="3.4" fill="#000"/>
<text x="191.9" y="228.4" class="lg">HBE</text>
<path d="M173.5 235H189.7" stroke="#444" stroke-width="0.9"/>
<text x="191.9" y="237.4" class="lg">HBE model</text>
<path d="M181.5 242L183.9 246L179.1 246Z" fill="#f00"/>
<text x="191.9" y="246.4" class="lg">HBE5P</text>
<path d="M173.5 253H189.7" stroke="#ff9a9a" stroke-width="0.9"/>
<text x="191.9" y="255.4" class="lg">HBE model</text>
<path d="M179.6 262L183.4 259.7L183.4 264.3Z" fill="#00f"/>
<text x="191.9" y="264.4" class="lg">HBE10P</text>
<path d="M173.5 271H189.7" stroke="#9a9aff" stroke-width="0.9"/>
<text x="191.9" y="273.4" class="lg">HBE10P model</text>
<path d="M181.5 277.55L183.95 280L181.5 282.45L179.05 280Z" fill="#0f0"/>
<text x="191.9" y="282.4" class="lg">HBE15P</text>
<path d="M173.5 289H189.7" stroke="#9aee9a" stroke-width="0.9"/>
<text x="191.9" y="291.4" class="lg">HBE15P model</text>
<path d="M238.5 293.2V376.7" stroke="#3a3a3a" stroke-width="1.2"/>
<polyline points="345.9,344.02 356.3,338.48 366.7,339.14 377.1,339.36 387.5,341.03 397.9,343.58 408.3,346.57 418.7,349.34 429.1,352.33 439.5,355.44 449.9,358.43 460.3,361.2 470.7,363.86 481.1,366.3 491.5,368.52 501.9,370.51 512.3,372.4 522.7,374.28 533.1,375.72" fill="none" stroke="#808080" stroke-width="0.9" stroke-linejoin="round"/>
<polyline points="345.9,266.31 356.3,257.11 366.7,257.88 377.1,263.98 387.5,271.96 397.9,280.94 408.3,289.48 418.7,298.9 429.1,307.77 439.5,316.64 449.9,325.73 460.3,334.82 470.7,343.58 481.1,351.89 491.5,358.98 501.9,365.41 512.3,370.4 522.7,374.06 533.1,375.95" fill="none" stroke="#ff9a9a" stroke-width="0.9" stroke-linejoin="round"/>
<polyline points="345.9,290.59 356.3,289.7 366.7,290.59 377.1,294.47 387.5,300.34 397.9,308.1 408.3,314.42 418.7,319.96 429.1,326.06 439.5,332.16 449.9,338.03 460.3,343.8 470.7,349.34 481.1,354.88 491.5,360.09 501.9,364.86 512.3,369.29 522.7,372.95 533.1,375.61" fill="none" stroke="#9a9aff" stroke-width="0.9" stroke-linejoin="round"/>
<polyline points="345.9,315.75 356.3,315.2 366.7,315.75 377.1,318.41 387.5,322.29 397.9,326.84 408.3,331.6 418.7,336.04 429.1,340.14 439.5,344.13 449.9,348.12 460.3,352.11 470.7,355.99 481.1,359.87 491.5,363.42 501.9,366.97 512.3,370.18 522.7,373.17 533.1,375.72" fill="none" stroke="#9aee9a" stroke-width="0.9" stroke-linejoin="round"/>
<rect x="344.2" y="342.32" width="3.4" height="3.4" fill="#000"/>
<rect x="354.6" y="335.45" width="3.4" height="3.4" fill="#000"/>
<rect x="365" y="338" width="3.4" height="3.4" fill="#000"/>
<rect x="375.4" y="338" width="3.4" height="3.4" fill="#000"/>
<rect x="385.8" y="338" width="3.4" height="3.4" fill="#000"/>
<rect x="396.2" y="342.32" width="3.4" height="3.4" fill="#000"/>
<rect x="406.6" y="345.98" width="3.4" height="3.4" fill="#000"/>
<rect x="417" y="348.19" width="3.4" height="3.4" fill="#000"/>
<rect x="427.4" y="350.41" width="3.4" height="3.4" fill="#000"/>
<rect x="437.8" y="353.74" width="3.4" height="3.4" fill="#000"/>
<rect x="448.2" y="357.4" width="3.4" height="3.4" fill="#000"/>
<rect x="458.6" y="359.61" width="3.4" height="3.4" fill="#000"/>
<rect x="469" y="362.83" width="3.4" height="3.4" fill="#000"/>
<rect x="479.4" y="365.04" width="3.4" height="3.4" fill="#000"/>
<rect x="489.8" y="367.04" width="3.4" height="3.4" fill="#000"/>
<rect x="500.2" y="368.92" width="3.4" height="3.4" fill="#000"/>
<rect x="510.6" y="370.48" width="3.4" height="3.4" fill="#000"/>
<rect x="521" y="372.47" width="3.4" height="3.4" fill="#000"/>
<rect x="531.4" y="374.02" width="3.4" height="3.4" fill="#000"/>
<path d="M345.9 282.05L348.3 286.05L343.5 286.05Z" fill="#f00"/>
<path d="M356.3 235.82L358.7 239.82L353.9 239.82Z" fill="#f00"/>
<path d="M366.7 235.82L369.1 239.82L364.3 239.82Z" fill="#f00"/>
<path d="M377.1 263.53L379.5 267.53L374.7 267.53Z" fill="#f00"/>
<path d="M387.5 282.05L389.9 286.05L385.1 286.05Z" fill="#f00"/>
<path d="M397.9 281.93L400.3 285.93L395.5 285.93Z" fill="#f00"/>
<path d="M408.3 295.13L410.7 299.13L405.9 299.13Z" fill="#f00"/>
<path d="M418.7 304.88L421.1 308.88L416.3 308.88Z" fill="#f00"/>
<path d="M429.1 304.88L431.5 308.88L426.7 308.88Z" fill="#f00"/>
<path d="M439.5 312.97L441.9 316.97L437.1 316.97Z" fill="#f00"/>
<path d="M449.9 319.07L452.3 323.07L447.5 323.07Z" fill="#f00"/>
<path d="M460.3 328.16L462.7 332.16L457.9 332.16Z" fill="#f00"/>
<path d="M470.7 337.47L473.1 341.47L468.3 341.47Z" fill="#f00"/>
<path d="M481.1 346.79L483.5 350.79L478.7 350.79Z" fill="#f00"/>
<path d="M491.5 357.65L493.9 361.65L489.1 361.65Z" fill="#f00"/>
<path d="M501.9 367.85L504.3 371.85L499.5 371.85Z" fill="#f00"/>
<path d="M512.3 371.51L514.7 375.51L509.9 375.51Z" fill="#f00"/>
<path d="M522.7 373.72L525.1 377.72L520.3 377.72Z" fill="#f00"/>
<path d="M533.1 374.06L535.5 378.06L530.7 378.06Z" fill="#f00"/>
<path d="M344 307.55L347.8 305.25L347.8 309.85Z" fill="#00f"/>
<path d="M354.4 265.98L358.2 263.68L358.2 268.28Z" fill="#00f"/>
<path d="M364.8 284.49L368.6 282.19L368.6 286.79Z" fill="#00f"/>
<path d="M375.2 297.13L379 294.83L379 299.43Z" fill="#00f"/>
<path d="M385.6 307.55L389.4 305.25L389.4 309.85Z" fill="#00f"/>
<path d="M396 315.2L399.8 312.9L399.8 317.5Z" fill="#00f"/>
<path d="M406.4 321.07L410.2 318.77L410.2 323.37Z" fill="#00f"/>
<path d="M416.8 326.28L420.6 323.98L420.6 328.58Z" fill="#00f"/>
<path d="M427.2 330.38L431 328.08L431 332.68Z" fill="#00f"/>
<path d="M437.6 334.04L441.4 331.74L441.4 336.34Z" fill="#00f"/>
<path d="M448 339.92L451.8 337.62L451.8 342.22Z" fill="#00f"/>
<path d="M458.4 344.46L462.2 342.16L462.2 346.76Z" fill="#00f"/>
<path d="M468.8 348.9L472.6 346.6L472.6 351.2Z" fill="#00f"/>
<path d="M479.2 353.55L483 351.25L483 355.85Z" fill="#00f"/>
<path d="M489.6 357.99L493.4 355.69L493.4 360.29Z" fill="#00f"/>
<path d="M500 363.53L503.8 361.23L503.8 365.83Z" fill="#00f"/>
<path d="M510.4 367.96L514.2 365.66L514.2 370.26Z" fill="#00f"/>
<path d="M520.8 371.62L524.6 369.32L524.6 373.92Z" fill="#00f"/>
<path d="M531.2 375.39L535 373.09L535 377.69Z" fill="#00f"/>
<path d="M345.9 318.95L348.35 321.4L345.9 323.85L343.45 321.4Z" fill="#0f0"/>
<path d="M356.3 305.1L358.75 307.55L356.3 310L353.85 307.55Z" fill="#0f0"/>
<path d="M366.7 312.75L369.15 315.2L366.7 317.65L364.25 315.2Z" fill="#0f0"/>
<path d="M377.1 318.95L379.55 321.4L377.1 323.85L374.65 321.4Z" fill="#0f0"/>
<path d="M387.5 318.95L389.95 321.4L387.5 323.85L385.05 321.4Z" fill="#0f0"/>
<path d="M397.9 328.38L400.35 330.83L397.9 333.28L395.45 330.83Z" fill="#0f0"/>
<path d="M408.3 331.7L410.75 334.15L408.3 336.6L405.85 334.15Z" fill="#0f0"/>
<path d="M418.7 334.47L421.15 336.92L418.7 339.37L416.25 336.92Z" fill="#0f0"/>
<path d="M429.1 339.13L431.55 341.58L429.1 344.03L426.65 341.58Z" fill="#0f0"/>
<path d="M439.5 343.23L441.95 345.68L439.5 348.13L437.05 345.68Z" fill="#0f0"/>
<path d="M449.9 346.45L452.35 348.9L449.9 351.35L447.45 348.9Z" fill="#0f0"/>
<path d="M460.3 350.1L462.75 352.55L460.3 355L457.85 352.55Z" fill="#0f0"/>
<path d="M470.7 354.43L473.15 356.88L470.7 359.33L468.25 356.88Z" fill="#0f0"/>
<path d="M481.1 357.86L483.55 360.31L481.1 362.76L478.65 360.31Z" fill="#0f0"/>
<path d="M491.5 361.3L493.95 363.75L491.5 366.2L489.05 363.75Z" fill="#0f0"/>
<path d="M501.9 364.63L504.35 367.08L501.9 369.53L499.45 367.08Z" fill="#0f0"/>
<path d="M512.3 367.29L514.75 369.74L512.3 372.19L509.85 369.74Z" fill="#0f0"/>
<path d="M522.7 370.39L525.15 372.84L522.7 375.29L520.25 372.84Z" fill="#0f0"/>
<path d="M533.1 373.27L535.55 375.72L533.1 378.17L530.65 375.72Z" fill="#0f0"/>
<path d="M335.5 221.3V376.5H543.5V221.3" fill="none" stroke="#3a3a3a" stroke-width="1.1"/>
<path d="M335.5 221.5H543.5" fill="none" stroke="#3a3a3a" stroke-width="1"/>
<text x="335.5" y="385.3" text-anchor="middle" class="tk">0.0</text>
<path d="M356.3 376.5V374.8" stroke="#3a3a3a" stroke-width="1"/>
<path d="M377.1 376.5V373.5" stroke="#3a3a3a" stroke-width="1"/>
<text x="377.1" y="385.3" text-anchor="middle" class="tk">0.2</text>
<path d="M397.9 376.5V374.8" stroke="#3a3a3a" stroke-width="1"/>
<path d="M418.7 376.5V373.5" stroke="#3a3a3a" stroke-width="1"/>
<text x="418.7" y="385.3" text-anchor="middle" class="tk">0.4</text>
<path d="M439.5 376.5V374.8" stroke="#3a3a3a" stroke-width="1"/>
<path d="M460.3 376.5V373.5" stroke="#3a3a3a" stroke-width="1"/>
<text x="460.3" y="385.3" text-anchor="middle" class="tk">0.6</text>
<path d="M481.1 376.5V374.8" stroke="#3a3a3a" stroke-width="1"/>
<path d="M501.9 376.5V373.5" stroke="#3a3a3a" stroke-width="1"/>
<text x="501.9" y="385.3" text-anchor="middle" class="tk">0.8</text>
<path d="M522.7 376.5V374.8" stroke="#3a3a3a" stroke-width="1"/>
<text x="543.5" y="385.3" text-anchor="middle" class="tk">1.0</text>
<path d="M335.5 370.96H337.2" stroke="#3a3a3a" stroke-width="1"/>
<path d="M335.5 365.41H338.5" stroke="#3a3a3a" stroke-width="1"/>
<path d="M335.5 359.87H337.2" stroke="#3a3a3a" stroke-width="1"/>
<path d="M335.5 354.33H338.5" stroke="#3a3a3a" stroke-width="1"/>
<path d="M335.5 348.79H337.2" stroke="#3a3a3a" stroke-width="1"/>
<path d="M335.5 343.24H338.5" stroke="#3a3a3a" stroke-width="1"/>
<path d="M335.5 337.7H337.2" stroke="#3a3a3a" stroke-width="1"/>
<path d="M335.5 332.16H338.5" stroke="#3a3a3a" stroke-width="1"/>
<path d="M335.5 326.61H337.2" stroke="#3a3a3a" stroke-width="1"/>
<path d="M335.5 321.07H338.5" stroke="#3a3a3a" stroke-width="1"/>
<path d="M335.5 315.53H337.2" stroke="#3a3a3a" stroke-width="1"/>
<path d="M335.5 309.99H338.5" stroke="#3a3a3a" stroke-width="1"/>
<path d="M335.5 304.44H337.2" stroke="#3a3a3a" stroke-width="1"/>
<path d="M335.5 298.9H338.5" stroke="#3a3a3a" stroke-width="1"/>
<path d="M335.5 293.36H337.2" stroke="#3a3a3a" stroke-width="1"/>
<path d="M335.5 287.81H338.5" stroke="#3a3a3a" stroke-width="1"/>
<path d="M335.5 282.27H337.2" stroke="#3a3a3a" stroke-width="1"/>
<path d="M335.5 276.73H338.5" stroke="#3a3a3a" stroke-width="1"/>
<path d="M335.5 271.19H337.2" stroke="#3a3a3a" stroke-width="1"/>
<path d="M335.5 265.64H338.5" stroke="#3a3a3a" stroke-width="1"/>
<path d="M335.5 260.1H337.2" stroke="#3a3a3a" stroke-width="1"/>
<path d="M335.5 254.56H338.5" stroke="#3a3a3a" stroke-width="1"/>
<path d="M335.5 249.01H337.2" stroke="#3a3a3a" stroke-width="1"/>
<path d="M335.5 243.47H338.5" stroke="#3a3a3a" stroke-width="1"/>
<path d="M335.5 237.93H337.2" stroke="#3a3a3a" stroke-width="1"/>
<path d="M335.5 232.39H338.5" stroke="#3a3a3a" stroke-width="1"/>
<path d="M335.5 226.84H337.2" stroke="#3a3a3a" stroke-width="1"/>
<text x="331.5" y="378.8" text-anchor="end" class="tk">0.0</text>
<text x="331.5" y="367.71" text-anchor="end" class="tk">0.1</text>
<text x="331.5" y="356.63" text-anchor="end" class="tk">0.2</text>
<text x="331.5" y="345.54" text-anchor="end" class="tk">0.3</text>
<text x="331.5" y="334.46" text-anchor="end" class="tk">0.4</text>
<text x="331.5" y="323.37" text-anchor="end" class="tk">0.5</text>
<text x="331.5" y="312.29" text-anchor="end" class="tk">0.6</text>
<text x="331.5" y="301.2" text-anchor="end" class="tk">0.7</text>
<text x="331.5" y="290.11" text-anchor="end" class="tk">0.8</text>
<text x="331.5" y="279.03" text-anchor="end" class="tk">0.9</text>
<text x="331.5" y="267.94" text-anchor="end" class="tk">1.0</text>
<text x="331.5" y="256.86" text-anchor="end" class="tk">1.1</text>
<text x="331.5" y="245.77" text-anchor="end" class="tk">1.2</text>
<text x="331.5" y="234.69" text-anchor="end" class="tk">1.3</text>
<text x="331.5" y="223.6" text-anchor="end" class="tk">1.4</text>
<text x="347.6" y="365.5" class="pl">(d)</text>
<text x="439.5" y="398.7" text-anchor="middle" class="at xt">Degree of cure, &#945;</text>
<text transform="translate(318.7 343.1) rotate(-90)" class="at">Cure rate, d&#945;/dt (min<tspan dy="-4.3" class="sup">-1</tspan><tspan dy="4.3">)</tspan></text>
<rect x="477.7" y="221.1" width="65.8" height="72" fill="#fff" stroke="#aaa" stroke-width="0.7"/>
<path d="M477.7 293.4H543.5" stroke="#999" stroke-width="1.1"/>
<rect x="484.8" y="224.4" width="3.4" height="3.4" fill="#000"/>
<text x="496.9" y="228.5" class="lg">HBE</text>
<path d="M478.5 235.1H494.7" stroke="#444" stroke-width="0.9"/>
<text x="496.9" y="237.5" class="lg">HBE model</text>
<path d="M486.5 242.1L488.9 246.1L484.1 246.1Z" fill="#f00"/>
<text x="496.9" y="246.5" class="lg">HBE5P</text>
<path d="M478.5 253.1H494.7" stroke="#ff9a9a" stroke-width="0.9"/>
<text x="496.9" y="255.5" class="lg">HBE model</text>
<path d="M484.6 262.1L488.4 259.8L488.4 264.4Z" fill="#00f"/>
<text x="496.9" y="264.5" class="lg">HBE10P</text>
<path d="M478.5 271.1H494.7" stroke="#9a9aff" stroke-width="0.9"/>
<text x="496.9" y="273.5" class="lg">HBE10P model</text>
<path d="M486.5 277.65L488.95 280.1L486.5 282.55L484.05 280.1Z" fill="#0f0"/>
<text x="496.9" y="282.5" class="lg">HBE15P</text>
<path d="M478.5 289.1H494.7" stroke="#9aee9a" stroke-width="0.9"/>
<text x="496.9" y="291.5" class="lg">HBE15P model</text>
<path d="M543.5 293.3V376.5" stroke="#3a3a3a" stroke-width="1.2"/>
</svg>
</body></html>
